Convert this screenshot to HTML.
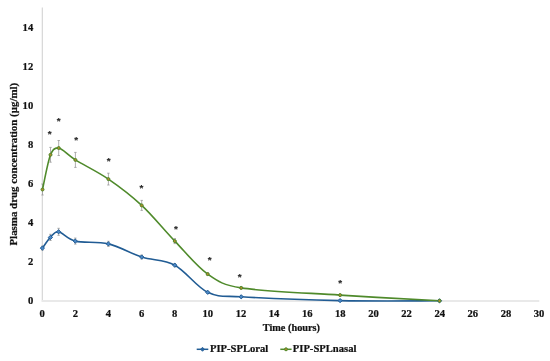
<!DOCTYPE html>
<html><head><meta charset="utf-8"><title>Plasma drug concentration</title>
<style>
html,body{margin:0;padding:0;background:#fff;}
svg{display:block}
text{font-family:"Liberation Serif","DejaVu Serif",serif;font-weight:bold;fill:#111;stroke:#111;stroke-width:0.22px;}
</style></head><body>
<svg width="550" height="361" viewBox="0 0 550 361">
<rect width="550" height="361" fill="#fff"/>

<line x1="42.3" y1="7.6" x2="42.3" y2="301.8" stroke="#d2d2d2" stroke-width="1.1"/>
<line x1="41.8" y1="300.9" x2="539.3" y2="300.9" stroke="#e9e9e9" stroke-width="2"/>
<text x="33.2" y="304.3" font-size="10.6" text-anchor="end">0</text>
<text x="33.2" y="265.2" font-size="10.6" text-anchor="end">2</text>
<text x="33.2" y="226.1" font-size="10.6" text-anchor="end">4</text>
<text x="33.2" y="187.0" font-size="10.6" text-anchor="end">6</text>
<text x="33.2" y="147.9" font-size="10.6" text-anchor="end">8</text>
<text x="33.2" y="108.8" font-size="10.6" text-anchor="end">10</text>
<text x="33.2" y="69.7" font-size="10.6" text-anchor="end">12</text>
<text x="33.2" y="30.6" font-size="10.6" text-anchor="end">14</text>
<text x="42.2" y="317.0" font-size="10.6" text-anchor="middle">0</text>
<text x="75.3" y="317.0" font-size="10.6" text-anchor="middle">2</text>
<text x="108.5" y="317.0" font-size="10.6" text-anchor="middle">4</text>
<text x="141.6" y="317.0" font-size="10.6" text-anchor="middle">6</text>
<text x="174.7" y="317.0" font-size="10.6" text-anchor="middle">8</text>
<text x="207.8" y="317.0" font-size="10.6" text-anchor="middle">10</text>
<text x="241.0" y="317.0" font-size="10.6" text-anchor="middle">12</text>
<text x="274.1" y="317.0" font-size="10.6" text-anchor="middle">14</text>
<text x="307.2" y="317.0" font-size="10.6" text-anchor="middle">16</text>
<text x="340.3" y="317.0" font-size="10.6" text-anchor="middle">18</text>
<text x="373.5" y="317.0" font-size="10.6" text-anchor="middle">20</text>
<text x="406.6" y="317.0" font-size="10.6" text-anchor="middle">22</text>
<text x="439.7" y="317.0" font-size="10.6" text-anchor="middle">24</text>
<text x="472.8" y="317.0" font-size="10.6" text-anchor="middle">26</text>
<text x="506.0" y="317.0" font-size="10.6" text-anchor="middle">28</text>
<text x="539.1" y="317.0" font-size="10.6" text-anchor="middle">30</text>
<text x="291.4" y="331.4" font-size="10.3" text-anchor="middle">Time (hours)</text>
<text transform="translate(16.7 164.2) rotate(-90)" font-size="10.9" text-anchor="middle">Plasma drug concentration (µg/ml)</text>
<path d="M42.5 184.0V195.0M41.3 184.0h2.4M41.3 195.0h2.4M50.5 147.4V162.2M49.3 147.4h2.4M49.3 162.2h2.4M58.7 140.5V155.5M57.5 140.5h2.4M57.5 155.5h2.4M75.4 152.4V167.4M74.2 152.4h2.4M74.2 167.4h2.4M108.4 173.2V185.0M107.2 173.2h2.4M107.2 185.0h2.4M141.7 200.4V210.4M140.5 200.4h2.4M140.5 210.4h2.4M174.8 238.6V243.6M173.6 238.6h2.4M173.6 243.6h2.4M207.7 272.9V275.3M206.5 272.9h2.4M206.5 275.3h2.4M241.2 286.9V288.9M240.0 286.9h2.4M240.0 288.9h2.4M340.1 294.3V295.9M338.9 294.3h2.4M338.9 295.9h2.4" fill="none" stroke="#999" stroke-width="0.8"/>
<path d="M42.4 246.1V250.1M41.2 246.1h2.4M41.2 250.1h2.4M50.4 234.3V240.5M49.2 234.3h2.4M49.2 240.5h2.4M58.6 228.3V235.3M57.4 228.3h2.4M57.4 235.3h2.4M75.3 238.1V244.1M74.1 238.1h2.4M74.1 244.1h2.4M108.4 241.3V246.5M107.2 241.3h2.4M107.2 246.5h2.4M141.7 255.0V259.0M140.5 255.0h2.4M140.5 259.0h2.4M174.8 263.6V266.8M173.6 263.6h2.4M173.6 266.8h2.4M207.7 291.3V293.3M206.5 291.3h2.4M206.5 293.3h2.4M241.2 296.0V297.6M240.0 296.0h2.4M240.0 297.6h2.4M340.1 300.1V301.1M338.9 300.1h2.4M338.9 301.1h2.4" fill="none" stroke="#999" stroke-width="0.8"/>
<path d="M42.40 248.10 C43.73 246.32 47.70 240.12 50.40 237.40 C53.10 234.68 54.45 231.18 58.60 231.80 C62.75 232.42 67.00 239.08 75.30 241.10 C83.60 243.12 97.33 241.25 108.40 243.90 C119.47 246.55 130.63 253.45 141.70 257.00 C152.77 260.55 163.80 259.32 174.80 265.20 C185.80 271.08 196.63 287.03 207.70 292.30 C218.77 297.57 224.33 295.74 241.20 296.80 C263.27 298.18 307.05 299.93 340.10 300.60 C373.15 301.27 422.93 300.77 439.50 300.80" fill="none" stroke="#215c94" stroke-width="1.6" stroke-linejoin="round" stroke-linecap="round"/>
<path d="M42.50 189.50 C43.83 183.72 47.80 161.72 50.50 154.80 C52.44 149.84 54.55 147.15 58.70 148.00 C62.85 148.85 67.12 154.72 75.40 159.90 C83.68 165.08 97.35 171.52 108.40 179.10 C119.45 186.68 130.63 195.07 141.70 205.40 C152.77 215.73 163.80 229.65 174.80 241.10 C185.80 252.55 196.63 266.30 207.70 274.10 C218.77 281.90 223.31 285.06 241.20 287.90 C263.27 291.40 307.05 292.95 340.10 295.10 C373.15 297.25 422.93 299.85 439.50 300.80" fill="none" stroke="#4f8a2b" stroke-width="1.6" stroke-linejoin="round" stroke-linecap="round"/>
<path d="M42.4 246.0l2.1 2.1l-2.1 2.1l-2.1-2.1z" fill="#4c88c6" stroke="#215c94" stroke-width="1"/>
<path d="M50.4 235.3l2.1 2.1l-2.1 2.1l-2.1-2.1z" fill="#4c88c6" stroke="#215c94" stroke-width="1"/>
<path d="M58.6 229.7l2.1 2.1l-2.1 2.1l-2.1-2.1z" fill="#4c88c6" stroke="#215c94" stroke-width="1"/>
<path d="M75.3 239.0l2.1 2.1l-2.1 2.1l-2.1-2.1z" fill="#4c88c6" stroke="#215c94" stroke-width="1"/>
<path d="M108.4 241.8l2.1 2.1l-2.1 2.1l-2.1-2.1z" fill="#4c88c6" stroke="#215c94" stroke-width="1"/>
<path d="M141.7 254.9l2.1 2.1l-2.1 2.1l-2.1-2.1z" fill="#4c88c6" stroke="#215c94" stroke-width="1"/>
<path d="M174.8 263.1l2.1 2.1l-2.1 2.1l-2.1-2.1z" fill="#4c88c6" stroke="#215c94" stroke-width="1"/>
<path d="M207.7 290.2l2.1 2.1l-2.1 2.1l-2.1-2.1z" fill="#4c88c6" stroke="#215c94" stroke-width="1"/>
<path d="M241.2 294.7l2.1 2.1l-2.1 2.1l-2.1-2.1z" fill="#4c88c6" stroke="#215c94" stroke-width="1"/>
<path d="M340.1 298.5l2.1 2.1l-2.1 2.1l-2.1-2.1z" fill="#4c88c6" stroke="#215c94" stroke-width="1"/>
<path d="M439.5 298.7l2.1 2.1l-2.1 2.1l-2.1-2.1z" fill="#4c88c6" stroke="#215c94" stroke-width="1"/>
<circle cx="42.5" cy="189.5" r="1.5" fill="#b08a2a" stroke="#4f8a2b" stroke-width="1"/>
<circle cx="50.5" cy="154.8" r="1.5" fill="#b08a2a" stroke="#4f8a2b" stroke-width="1"/>
<circle cx="58.7" cy="148.0" r="1.5" fill="#b08a2a" stroke="#4f8a2b" stroke-width="1"/>
<circle cx="75.4" cy="159.9" r="1.5" fill="#b08a2a" stroke="#4f8a2b" stroke-width="1"/>
<circle cx="108.4" cy="179.1" r="1.5" fill="#b08a2a" stroke="#4f8a2b" stroke-width="1"/>
<circle cx="141.7" cy="205.4" r="1.5" fill="#b08a2a" stroke="#4f8a2b" stroke-width="1"/>
<circle cx="174.8" cy="241.1" r="1.5" fill="#b08a2a" stroke="#4f8a2b" stroke-width="1"/>
<circle cx="207.7" cy="274.1" r="1.5" fill="#b08a2a" stroke="#4f8a2b" stroke-width="1"/>
<circle cx="241.2" cy="287.9" r="1.5" fill="#b08a2a" stroke="#4f8a2b" stroke-width="1"/>
<circle cx="340.1" cy="295.1" r="1.5" fill="#b08a2a" stroke="#4f8a2b" stroke-width="1"/>
<circle cx="439.5" cy="300.8" r="1.5" fill="#b08a2a" stroke="#4f8a2b" stroke-width="1"/>
<text transform="translate(49.6 133.3) scale(1.02 0.9)" x="0" y="4.4" font-size="9.8" text-anchor="middle" style="font-family:'Liberation Sans',sans-serif;font-weight:bold;fill:#262626;stroke:#262626;stroke-width:0.15px;stroke-linejoin:round">*</text>
<text transform="translate(58.7 119.8) scale(1.02 0.9)" x="0" y="4.4" font-size="9.8" text-anchor="middle" style="font-family:'Liberation Sans',sans-serif;font-weight:bold;fill:#262626;stroke:#262626;stroke-width:0.15px;stroke-linejoin:round">*</text>
<text transform="translate(76.1 138.8) scale(1.02 0.9)" x="0" y="4.4" font-size="9.8" text-anchor="middle" style="font-family:'Liberation Sans',sans-serif;font-weight:bold;fill:#262626;stroke:#262626;stroke-width:0.15px;stroke-linejoin:round">*</text>
<text transform="translate(108.7 160.2) scale(1.02 0.9)" x="0" y="4.4" font-size="9.8" text-anchor="middle" style="font-family:'Liberation Sans',sans-serif;font-weight:bold;fill:#262626;stroke:#262626;stroke-width:0.15px;stroke-linejoin:round">*</text>
<text transform="translate(141.4 186.8) scale(1.02 0.9)" x="0" y="4.4" font-size="9.8" text-anchor="middle" style="font-family:'Liberation Sans',sans-serif;font-weight:bold;fill:#262626;stroke:#262626;stroke-width:0.15px;stroke-linejoin:round">*</text>
<text transform="translate(175.9 228.5) scale(1.02 0.9)" x="0" y="4.4" font-size="9.8" text-anchor="middle" style="font-family:'Liberation Sans',sans-serif;font-weight:bold;fill:#262626;stroke:#262626;stroke-width:0.15px;stroke-linejoin:round">*</text>
<text transform="translate(209.6 258.7) scale(1.02 0.9)" x="0" y="4.4" font-size="9.8" text-anchor="middle" style="font-family:'Liberation Sans',sans-serif;font-weight:bold;fill:#262626;stroke:#262626;stroke-width:0.15px;stroke-linejoin:round">*</text>
<text transform="translate(239.8 275.9) scale(1.02 0.9)" x="0" y="4.4" font-size="9.8" text-anchor="middle" style="font-family:'Liberation Sans',sans-serif;font-weight:bold;fill:#262626;stroke:#262626;stroke-width:0.15px;stroke-linejoin:round">*</text>
<text transform="translate(340.1 281.9) scale(1.02 0.9)" x="0" y="4.4" font-size="9.8" text-anchor="middle" style="font-family:'Liberation Sans',sans-serif;font-weight:bold;fill:#262626;stroke:#262626;stroke-width:0.15px;stroke-linejoin:round">*</text>
<line x1="196.7" y1="349.3" x2="208.3" y2="349.3" stroke="#215c94" stroke-width="1.5"/>
<path d="M202.5 347.3l2 2l-2 2l-2-2z" fill="#2a66a2" stroke="#215c94" stroke-width="0.8"/>
<text x="210" y="352.3" font-size="10.6">PIP-SPLoral</text>
<line x1="280.3" y1="349.3" x2="291.6" y2="349.3" stroke="#4f8a2b" stroke-width="1.5"/>
<circle cx="286" cy="349.3" r="1.5" fill="#a88a2e" stroke="#4f8a2b" stroke-width="1"/>
<text x="292.8" y="352.3" font-size="10.6">PIP-SPLnasal</text>
</svg></body></html>
